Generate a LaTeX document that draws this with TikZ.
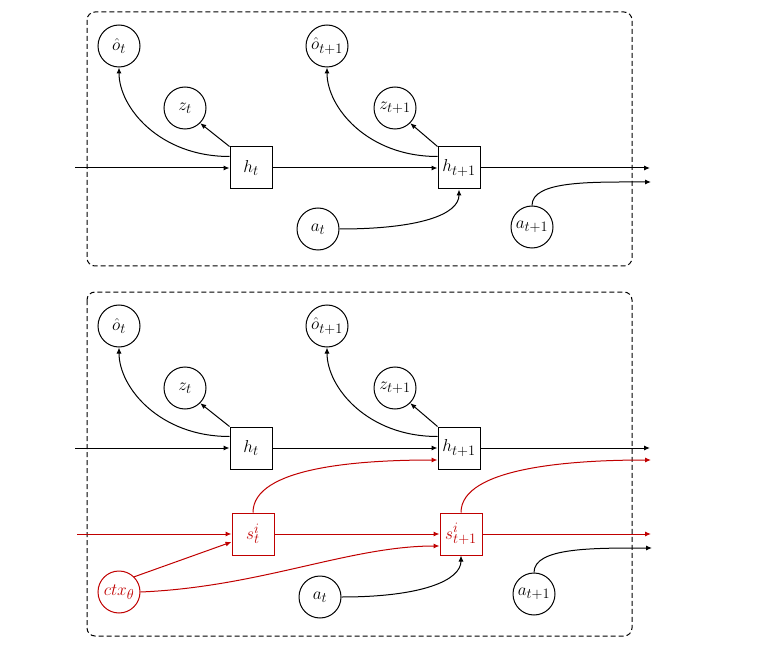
\documentclass[tikz,border=0pt]{standalone}
\usetikzlibrary{arrows.meta}
\begin{document}
\begin{tikzpicture}[x=1pt,y=-1pt,line width=1pt,
  circ/.style={draw,circle,minimum size=42pt,inner sep=0pt,font=\fontsize{19}{22}\selectfont},
  sq/.style={draw,minimum size=42pt,inner sep=0pt,font=\fontsize{19}{22}\selectfont},
  arr/.style={-{Latex[length=6pt,width=5pt]}},
  frame/.style={draw,dash pattern=on 5pt off 3pt,rounded corners=8pt}]
\definecolor{myred}{RGB}{192,0,0}
\useasboundingbox (0,0) rectangle (774,671);
\foreach \o/\n in {0/A,280/B}{
  \draw[frame] (87,12+\o) rectangle (632,266+\o+\ifnum\o=0 0\else 90\fi);
  \node[circ] (o1\n) at (119,46+\o) {$\hat o_t$};
  \node[circ] (z1\n) at (185,108+\o) {$z_t$};
  \node[circ] (o2\n) at (327,46+\o) {$\hat o_{t+1}$};
  \node[circ] (z2\n) at (395,108+\o) {$z_{t+1}$};
  \node[sq] (h1\n) at (251,168+\o) {$h_t$};
  \node[sq] (h2\n) at (459,168+\o) {$h_{t+1}$};
  \coordinate (l\n) at (75,168+\o);
  \coordinate (r\n) at (650,168+\o);
  \draw[arr] (l\n) -- (h1\n.west);
  \draw[arr] (h1\n.east) -- (h2\n.west);
  \draw[arr] (h2\n.east) -- (r\n);
  \foreach \h/\z/\oo in {h1/z1/o1,h2/z2/o2}{
    \draw[arr] (\h\n.north west) -- (\z\n.south east);
    \draw[arr] ([yshift=-10pt]\h\n.north west) .. controls +(-70,0) and +(0,40) .. (\oo\n.south);
  }
}
% top
\node[circ] (a1A) at (318,229) {$a_t$};
\node[circ] (a2A) at (532,227) {$a_{t+1}$};
\coordinate (eA) at (651,182);
\draw[arr] (a1A.east) .. controls +(80,0) and +(0,25) .. (h2A.south);
\draw[arr] (a2A.north) .. controls +(0,-25) and +(-60,0) .. (eA);
% bottom
\node[sq,draw=myred,text=myred] (s1) at (253,534) {$s^i_t$};
\node[sq,draw=myred,text=myred] (s2) at (461,534) {$s^i_{t+1}$};
\node[circ,draw=myred,text=myred] (ctx) at (119,592) {$ctx_\theta$};
\coordinate (ls) at (77,534);
\coordinate (rs) at (651,534);
\coordinate (rh) at (651,460);
\draw[arr,myred] (ls) -- (s1.west);
\draw[arr,myred] (s1.east) -- (s2.west);
\draw[arr,myred] (s2.east) -- (rs);
\draw[arr,myred] (s1.north) .. controls +(0,-45) and +(-80,0) .. ([yshift=-12pt]h2B.west);
\draw[arr,myred] (s2.north) .. controls +(0,-45) and +(-80,0) .. (rh);
\draw[arr,myred] (ctx.north east) -- ([yshift=-8pt]s1.west);
\draw[arr,myred] (ctx.east) .. controls +(120,-5) and +(-90,0) .. ([yshift=-12pt]s2.west);
\node[circ] (a1B) at (320,597) {$a_t$};
\node[circ] (a2B) at (534,594) {$a_{t+1}$};
\coordinate (eB) at (652,548);
\draw[arr] (a1B.east) .. controls +(80,0) and +(0,25) .. (s2.south);
\draw[arr] (a2B.north) .. controls +(0,-25) and +(-60,0) .. (eB);
\end{tikzpicture}
\end{document}
